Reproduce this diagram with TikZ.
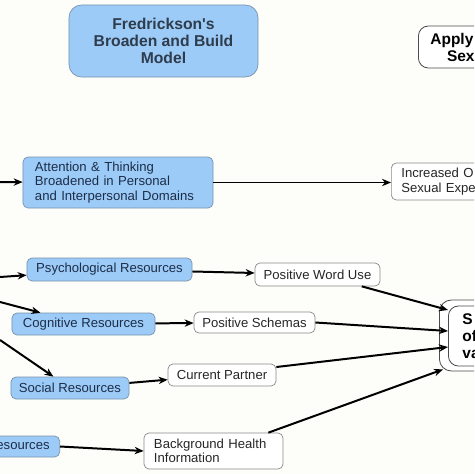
\documentclass[tikz,border=0pt]{standalone}
\usepackage{fontspec}
\setmainfont{Liberation Sans}
\usetikzlibrary{arrows.meta}
\definecolor{boxblue}{HTML}{9DCBF8}
\definecolor{boxedge}{HTML}{7893AE}
\definecolor{navytext}{HTML}{1C2D47}
\definecolor{titletext}{HTML}{2E3C4C}
\definecolor{greyedge}{HTML}{8A8A8A}
\definecolor{paper}{HTML}{FDFDF9}
\begin{document}
\begin{tikzpicture}[x=0.03cm, y=-0.03cm,
    resource/.style={rectangle, rounded corners=0.15cm, draw=boxedge, fill=boxblue, line width=0.6pt,
        text=navytext, font=\fontsize{11.2}{12.3}\selectfont, inner sep=0pt},
    measure/.style={rectangle, rounded corners=0.15cm, draw=greyedge, fill=white, line width=0.6pt,
        text=black!85, font=\fontsize{11.2}{12.3}\selectfont, inner sep=0pt},
    heading/.style={rectangle, rounded corners=0.3cm, draw=black!70, fill=white, line width=0.7pt,
        font=\bfseries\fontsize{13.2}{14.5}\selectfont, inner sep=0pt},
    link/.style={-{Stealth[length=0.27cm, width=0.22cm]}, line width=1.7pt, black}]

    % Paper and frame
    \fill[paper] (0,0) rectangle (474,474);
    \useasboundingbox (0,0) rectangle (474,474);
    \clip (0,0) rectangle (474,474);

    % Draw the model headings
    \node[resource, rounded corners=0.38cm, text=titletext, font=\bfseries\fontsize{13.4}{14.5}\selectfont,
        align=center, minimum width=5.67cm, minimum height=2.16cm] (model) at (163.5,41)
        {Fredrickson\textquotesingle s\\Broaden and Build\\Model};
    \node[heading, anchor=west, text width=3cm, inner xsep=0.36cm, align=left, minimum height=1.26cm]
        (apply) at (418,47) {Apply\\\hspace*{0.5cm}Sex};

    % Draw the broadening row
    \node[resource, text width=4.98cm, inner xsep=0.36cm, align=left, minimum height=1.53cm]
        (attention) at (118,182.5) {Attention \& Thinking\\Broadened in Personal\\and Interpersonal Domains};
    \node[measure, anchor=west, text width=3.6cm, inner xsep=0.3cm, align=left, minimum height=1.11cm]
        (increased) at (391,181.5) {Increased O\\Sexual Expe};

    % Draw the resources and their measures
    \node[resource, minimum width=4.95cm, minimum height=0.69cm] (psych) at (109.5,269.5) {Psychological Resources};
    \node[measure, minimum width=3.75cm, minimum height=0.69cm] (worduse) at (317.5,274.5) {Positive Word Use};
    \node[resource, minimum width=4.29cm, minimum height=0.66cm] (cognitive) at (83.5,324) {Cognitive Resources};
    \node[measure, minimum width=3.63cm, minimum height=0.63cm] (schemas) at (254.5,322.5) {Positive Schemas};
    \node[resource, minimum width=3.54cm, minimum height=0.66cm] (social) at (70,388) {Social Resources};
    \node[measure, minimum width=3.24cm, minimum height=0.66cm] (partner) at (222,375) {Current Partner};
    \node[resource, anchor=east, text width=2.4cm, inner xsep=0.3cm, align=right, minimum height=0.63cm]
        (physical) at (60,446.5) {esources};
    \node[measure, text width=3.57cm, inner xsep=0.3cm, align=left, minimum height=1.08cm]
        (background) at (213.5,451) {Background Health\\Information};

    % Draw the outcome box with its double frame
    \node[heading, rounded corners=0.36cm, anchor=west, minimum width=4cm, minimum height=2.13cm]
        (outcomeframe) at (439,335.5) {};
    \node[heading, anchor=west, text width=3cm, inner xsep=0.42cm, align=left, minimum height=1.8cm]
        (outcome) at (448,336) {S\\of\\va};

    % Loose ends coming in from the left
    \coordinate (attin) at (0,182);
    \coordinate (psychin) at (0,277);
    \coordinate (cogin) at (0,302);
    \coordinate (socin) at (0,340);

    % Draw the links
    \draw[link] (attin) -- (attention);
    \draw[link] (attention) -- (attention -| increased.west);
    \draw[link] (psychin) -- (psych);
    \draw[link] (cogin) -- (cognitive);
    \draw[link] (socin) -- (social);
    \draw[link] (psych) -- (worduse);
    \draw[link] (cognitive) -- (schemas);
    \draw[link] (social) -- (partner);
    \draw[link] (physical.east) -- (background.west);
    \draw[link] (worduse.-15) -- ([yshift=0.78cm]outcome.west);
    \draw[link] (schemas.east) -- ([yshift=0.15cm]outcome.west);
    \draw[link] ([yshift=0.24cm]partner.east) -- ([yshift=-0.33cm]outcome.west);
    \draw[link] ([xshift=-0.45cm]background.north east) -- ([xshift=0.12cm,yshift=0.06cm]outcomeframe.south west);
\end{tikzpicture}
\end{document}
